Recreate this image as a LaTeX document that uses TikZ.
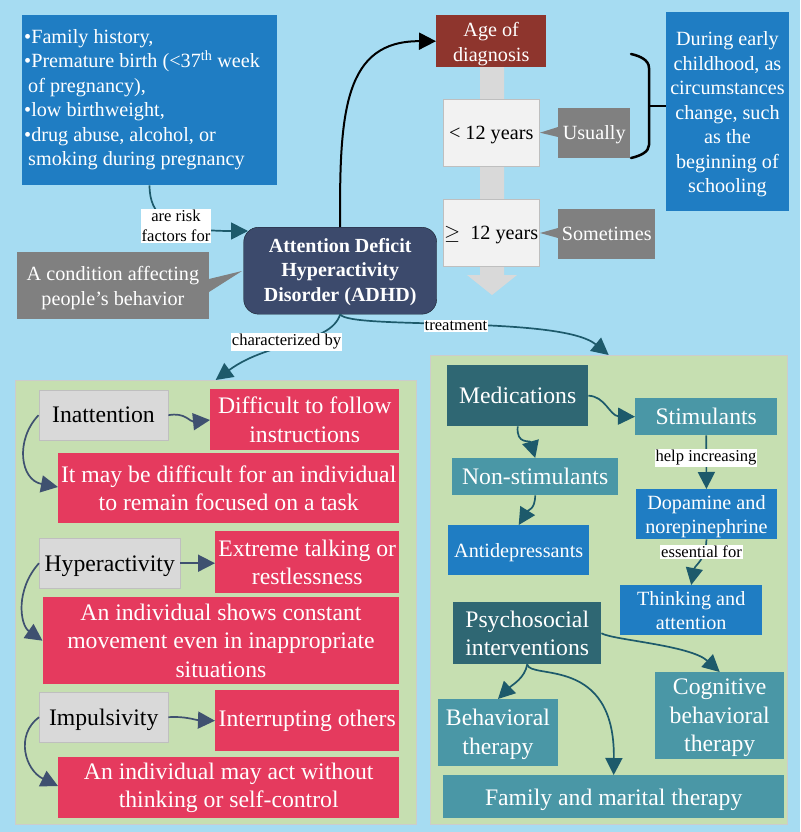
\documentclass[tikz,border=0pt]{standalone}
\usepackage{fontspec}
\setmainfont{Liberation Serif}
\usetikzlibrary{arrows.meta}
\definecolor{skybg}{HTML}{A6DCF2}
\definecolor{panelgreen}{HTML}{C6DFB1}
\definecolor{redfill}{HTML}{E53A5E}
\definecolor{tealfill}{HTML}{4A97A6}
\definecolor{darkteal}{HTML}{2F6773}
\definecolor{bluefill}{HTML}{1F7DC3}
\definecolor{navyfill}{HTML}{3C4A6C}
\definecolor{brownfill}{HTML}{8E352D}
\definecolor{grayfill}{HTML}{808080}
\definecolor{lightgray}{HTML}{D9D9D9}
\definecolor{palefill}{HTML}{F2F2F2}
\definecolor{linkteal}{HTML}{1D5A6B}
\definecolor{linknavy}{HTML}{3F5170}
\newcommand{\lowline}[1]{\rule{0pt}{#1}}
\tikzset{
  box/.style={anchor=north west,inner sep=0pt,align=center,text=white,
    font=\fontsize{23.7}{28.5}\selectfont},
  lowtext/.style={execute at begin node={\rule{0pt}{#1}}},
  lowtext/.default=0.95em,
  redbox/.style={box,fill=redfill},
  tealbox/.style={box,fill=tealfill},
  darkbox/.style={box,fill=darkteal},
  bluebox/.style={box,fill=bluefill,font=\fontsize{20.2}{24.5}\selectfont},
  greybox/.style={box,fill=grayfill,font=\fontsize{20.2}{24.5}\selectfont},
  headbox/.style={box,fill=lightgray,draw=black!25,text=black},
  agebox/.style={box,fill=palefill,draw=black!25,text=black,lowtext=0.85em,font=\fontsize{20.2}{24.5}\selectfont},
  linklabel/.style={fill=white,inner sep=1pt,align=center,text=black,
    font=\fontsize{16.6}{20}\selectfont},
  link/.style={-{Triangle[length=17pt,width=17pt]},line width=1.7pt,linkteal},
  navylink/.style={link,linknavy},
}
\begin{document}
\begin{tikzpicture}[x=1pt,y=-1pt]
\useasboundingbox (0,0) rectangle (800,832);
\fill [skybg] (0,0) rectangle (800,832);

%panels
\node (leftpanel) [box,fill=panelgreen,draw=black!20,minimum width=401,minimum height=444] at (15,380) {};
\node (rightpanel) [box,fill=panelgreen,draw=black!20,minimum width=357,minimum height=469] at (430,355) {};

%gray timeline arrow
\fill [lightgray] (480,67) -- (504,67) -- (504,275) -- (517,275) -- (492,295) -- (467,275) -- (480,275) -- cycle;

%top part
\node (risk) [box,fill=bluefill,minimum width=255.5,minimum height=170] at (21.5,15) {};
\node (risktext) [anchor=north west,inner sep=0pt,align=left,text=white,font=\fontsize{20.2}{24.5}\selectfont] at (24,29)
  {•Family history,\\
   •Premature birth (<37\textsuperscript{th} week\\
   \hspace*{4pt}of pregnancy),\\
   •low birthweight,\\
   •drug abuse, alcohol, or\\
   \hspace*{4pt}smoking during pregnancy};
\node (adhd) [box,fill=navyfill,draw=black!60!navyfill,rounded corners=15pt,minimum width=193,minimum height=87,
  font=\fontsize{20}{24.5}\selectfont\bfseries] at (243.5,227) {\lowline{0.8em}Attention Deficit\\Hyperactivity\\Disorder (ADHD)};
\node (cond) [greybox,minimum width=192.5,minimum height=67] at (16.5,252) {\lowline{0.95em}A condition affecting\\people’s behavior};
\fill [grayfill] (209,279) -- (242,271) -- (209,292) -- cycle;

\node (age) [box,fill=brownfill,minimum width=110,minimum height=52,font=\fontsize{20.2}{24.5}\selectfont] at (436,15) {\lowline{1em}Age of\\diagnosis};
\node (under) [agebox,minimum width=96,minimum height=67] at (443,99) {< 12 years};
\node (over) [agebox,minimum width=96,minimum height=67] at (443,199) {$\geq$\ \ 12 years};
\node (usually) [greybox,lowtext=0.85em,minimum width=72,minimum height=50] at (558,107.5) {Usually};
\node (sometimes) [greybox,minimum width=97,minimum height=50] at (558,209) {Sometimes};
\node (during) [bluebox,minimum width=123.5,minimum height=199] at (665.5,12)
  {\lowline{0.95em}During early\\childhood, as\\circumstances\\change, such\\as the\\beginning of\\schooling};
\fill [grayfill] (558,127) -- (540,132.7) -- (558,137) -- cycle;
\fill [grayfill] (558,228) -- (540,233) -- (558,238) -- cycle;

%brace
\coordinate (bracemid) at (649,106);
\draw [line width=2.5pt,black,line cap=round] (631,54) .. controls (640,56) and (649,60) .. (649,68) -- (649,145) .. controls (649,152) and (640,156) .. (631,158);
\draw [line width=2.5pt,black] (bracemid) -- (during.west |- bracemid);

%left panel
\node (inatt) [headbox,minimum width=129.5,minimum height=50] at (38.5,390) {Inattention};
\node (follow) [redbox,minimum width=189,minimum height=61] at (210,389) {Difficult to follow\\instructions};
\node (focus) [redbox,minimum width=341,minimum height=70] at (58,453) {It may be difficult for an individual\\to remain focused on a task};
\node (hyper) [headbox,lowtext,minimum width=141,minimum height=50] at (39,538) {Hyperactivity};
\node (talk) [redbox,minimum width=184,minimum height=62] at (215,531) {Extreme talking or\\restlessness};
\node (move) [redbox,minimum width=356.5,minimum height=87] at (42.5,597) {An individual shows constant\\movement even in inappropriate\\situations};
\node (impuls) [headbox,lowtext,minimum width=129,minimum height=50] at (39,692) {Impulsivity};
\node (interrupt) [redbox,minimum width=184,minimum height=61] at (215,690) {Interrupting others};
\node (control) [redbox,minimum width=341,minimum height=61] at (58,757) {An individual may act without\\thinking or self-control};

\draw [navylink] (inatt.east) .. controls (185,412) and (190,422) .. (follow.west |- 0,420);
\draw [navylink] (inatt.west) .. controls (15,440) and (20,480) .. (focus.west |- 0,487);
\draw [navylink] (hyper.east) -- (talk.west |- hyper.east);
\draw [navylink] (hyper.west) .. controls (15,590) and (20,625) .. (move.west);
\draw [navylink] (impuls.east) .. controls (185,716) and (195,720) .. (interrupt.west);
\draw [navylink] (impuls.west) .. controls (15,735) and (25,770) .. (control.west |- 0,786);

%right panel
\node (medic) [darkbox,minimum width=141,minimum height=61] at (447,365) {Medications};
\node (stim) [tealbox,minimum width=142,minimum height=37] at (635,398) {Stimulants};
\node (nonstim) [tealbox,minimum width=166,minimum height=37] at (452,458) {Non-stimulants};
\node (antidep) [bluebox,lowtext,minimum width=141,minimum height=50] at (448,525) {Antidepressants};
\node (dopa) [bluebox,minimum width=141.5,minimum height=50] at (635.5,489) {\lowline{0.95em}Dopamine and\\norepinephrine};
\node (think) [bluebox,minimum width=142,minimum height=50] at (620,585) {\lowline{0.75em}Thinking and\\attention};
\node (psycho) [darkbox,minimum width=148,minimum height=62] at (453,602) {Psychosocial\\interventions};
\node (cogn) [tealbox,minimum width=129,minimum height=87] at (655,672) {\lowline{0.85em}Cognitive\\behavioral\\therapy};
\node (behav) [tealbox,minimum width=119.5,minimum height=67] at (438,699) {\lowline{0.85em}Behavioral\\therapy};
\node (family) [tealbox,lowtext,minimum width=341,minimum height=43] at (443,775) {Family and marital therapy};

\draw [link] (medic.east) .. controls (605,396) and (610,416) .. (stim.west);
\draw [link] (medic.south) .. controls (516,445) and (530,440) .. (nonstim.north);
\draw [link] (nonstim.south) .. controls (535,510) and (528,510) .. (antidep.north);
\draw [link] (stim.south) -- (dopa.north);
\draw [link] (dopa.south) .. controls (706,560) and (695,565) .. (think.north);
\draw [link] (psycho.east) .. controls (612,640) and (690,645) .. (cogn.north);
\draw [link] (psycho.south) .. controls (525,678) and (512,685) .. (behav.north);
\draw [link] (psycho.south) .. controls (530,680) and (615,655) .. (family.north);
\node (helpinc) [linklabel] at (706,458) {help increasing};
\node (essential) [linklabel] at (701.5,552) {essential for};

%top links
\draw [link] (risk.south) .. controls (150,215) and (165,231) .. (248,231);
\draw [-{Triangle[length=17pt,width=17pt]},line width=2pt,black] (adhd.north) .. controls (339,110) and (345,41) .. (age.west);
\draw [link] (adhd.south) .. controls (330,345) and (270,340) .. (leftpanel.north);
\draw [link] (adhd.south) .. controls (350,330) and (560,315) .. (rightpanel.north);
\node (risklabel) [linklabel] at (176,226) {are risk\\factors for};
\node (charlabel) [linklabel] at (286.5,342) {characterized by};
\node (treatlabel) [linklabel] at (456,326) {treatment};

\end{tikzpicture}
\end{document}
